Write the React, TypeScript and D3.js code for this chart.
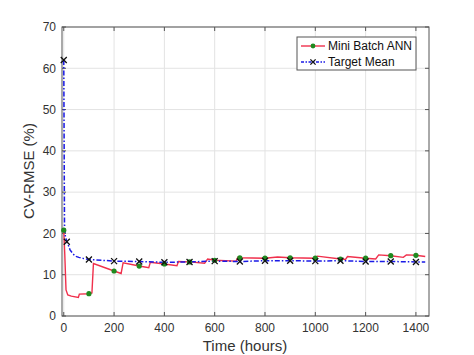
import React from "react";
import * as d3 from "d3";

const annT = [0, 4, 9, 16, 30, 58, 62, 100, 112, 118, 200, 228, 236, 300, 338, 344, 400, 450, 456, 500, 560, 572, 600, 685, 692, 700, 800, 850, 900, 1000, 1008, 1100, 1120, 1128, 1200, 1240, 1252, 1300, 1350, 1362, 1400, 1437];
const annV = [20.8, 15, 6.3, 5.1, 4.8, 4.5, 5.3, 5.4, 5.6, 12.7, 10.9, 10.3, 12.9, 12.1, 11.7, 13.0, 12.6, 12.2, 13.2, 13.1, 12.8, 13.8, 13.5, 13.3, 14.2, 14.1, 14.0, 14.3, 14.1, 14.0, 14.5, 13.8, 13.7, 14.4, 14.0, 13.8, 14.8, 14.6, 14.2, 14.8, 14.7, 14.4];

const meanT = [0, 3, 6, 12, 18, 25, 35, 45, 60, 80, 100, 150, 200, 300, 400, 500, 600, 700, 800, 900, 1000, 1100, 1200, 1300, 1400, 1437];
const meanV = [62, 22, 19.5, 18, 17.2, 16, 15.2, 14.5, 14.2, 13.9, 13.7, 13.5, 13.3, 13.2, 13.0, 13.1, 13.3, 13.2, 13.4, 13.4, 13.3, 13.4, 13.2, 13.2, 13.1, 13.1];

const annMarkerT = [0, 100, 200, 300, 400, 500, 600, 700, 800, 900, 1000, 1100, 1200, 1300, 1400];
const meanMarkerT = [0, 12, 100, 200, 300, 400, 500, 600, 700, 800, 900, 1000, 1100, 1200, 1300, 1400];

const xTicks = [0, 200, 400, 600, 800, 1000, 1200, 1400];
const yTicks = [0, 10, 20, 30, 40, 50, 60, 70];

const seriesNames = ["Mini Batch ANN", "Target Mean"];

const W = 474, H = 355;
const L = 62, R = 429, T = 27, B = 316;

export default function App() {
  const x = d3.scaleLinear().domain([-7, 1452]).range([L, R]);
  const y = d3.scaleLinear().domain([0, 70]).range([B, T]);
  const line = d3.line<[number, number]>().x(d => x(d[0])).y(d => y(d[1]));
  const annPts: [number, number][] = annT.map((t, i) => [t, annV[i]]);
  const meanPts: [number, number][] = meanT.map((t, i) => [t, meanV[i]]);
  const annMk = annPts.filter(p => annMarkerT.includes(p[0]));
  const meanMk = meanPts.filter(p => meanMarkerT.includes(p[0]));
  const red = "#f0304c";
  const blue = "#1a1ae6";
  const green = "#1f8a1f";
  const txt = "#333";
  const font = "Liberation Sans, Arial, sans-serif";
  const X = (cx: number, cy: number, s = 3) => (
    <path d={`M${cx - s},${cy - s}L${cx + s},${cy + s}M${cx - s},${cy + s}L${cx + s},${cy - s}`} stroke="#111" strokeWidth={1.3} fill="none" />
  );
  return (
    <svg width={W} height={H} style={{ position: "absolute", left: 0, top: 0, background: "#fff" }} fontFamily={font}>
      <rect x={0} y={0} width={W} height={H} fill="#fff" />
      {xTicks.map(t => (
        <line key={"gx" + t} x1={x(t)} x2={x(t)} y1={T} y2={B} stroke="#e3e3e3" strokeWidth={1} />
      ))}
      {yTicks.map(t => (
        <line key={"gy" + t} x1={L} x2={R} y1={y(t)} y2={y(t)} stroke="#e3e3e3" strokeWidth={1} />
      ))}
      <rect x={L} y={T} width={R - L} height={B - T} fill="none" stroke="#555" strokeWidth={1} />
      {xTicks.map(t => (
        <g key={"tx" + t}>
          <line x1={x(t)} x2={x(t)} y1={B} y2={B - 4} stroke="#555" />
          <line x1={x(t)} x2={x(t)} y1={T} y2={T + 4} stroke="#555" />
          <text x={x(t)} y={331.5} fontSize={12} fill={txt} textAnchor="middle">{t}</text>
        </g>
      ))}
      {yTicks.map(t => (
        <g key={"ty" + t}>
          <line x1={L} x2={L + 4} y1={y(t)} y2={y(t)} stroke="#555" />
          <line x1={R} x2={R - 4} y1={y(t)} y2={y(t)} stroke="#555" />
          <text x={56} y={y(t) + 4.3} fontSize={12} fill={txt} textAnchor="end">{t}</text>
        </g>
      ))}
      <text x={245} y={351} fontSize={15} fill={txt} textAnchor="middle">Time (hours)</text>
      <text transform="translate(34,171) rotate(-90)" fontSize={15} fill={txt} textAnchor="middle">CV-RMSE (%)</text>

      <path d={line(annPts) || ""} fill="none" stroke={red} strokeWidth={1.4} />
      <path d={line(meanPts) || ""} fill="none" stroke={blue} strokeWidth={1.5} strokeDasharray="5,2,1.5,2" />
      {annMk.map((p, i) => (
        <circle key={"ga" + i} cx={x(p[0])} cy={y(p[1])} r={2.6} fill={green} />
      ))}
      {meanMk.map((p, i) => <g key={"mk" + i}>{X(x(p[0]), y(p[1]))}</g>)}

      <g>
        <rect x={297} y={37} width={119} height={33} fill="#fff" stroke="#555" strokeWidth={1} />
        <line x1={301} x2={325} y1={46} y2={46} stroke={red} strokeWidth={1.4} />
        <circle cx={313} cy={46} r={2.4} fill={green} />
        <text x={328} y={50.3} fontSize={12} fill="#111">{seriesNames[0]}</text>
        <line x1={301} x2={325} y1={62} y2={62} stroke={blue} strokeWidth={1.4} strokeDasharray="3,1.5,1.5,1.5" />
        {X(313, 62, 2.6)}
        <text x={328} y={66.3} fontSize={12} fill="#111">{seriesNames[1]}</text>
      </g>
    </svg>
  );
}
